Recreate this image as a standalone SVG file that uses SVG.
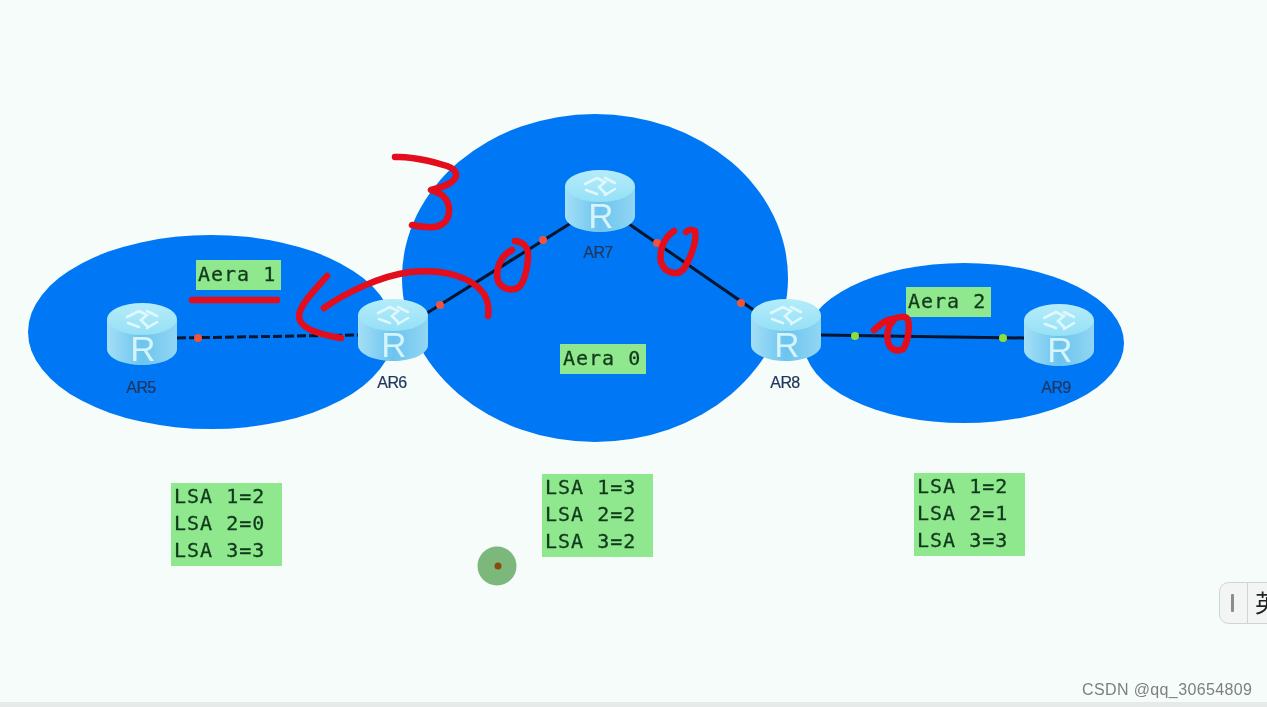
<svg xmlns="http://www.w3.org/2000/svg" width="1267" height="707" viewBox="0 0 1267 707">
<style>
.area{fill:#0078f5}
.lbl{fill:#90e88e}
.mono{font-family:"DejaVu Sans Mono","Liberation Mono",monospace;font-size:20px;fill:#123a1c;letter-spacing:1px;stroke:#123a1c;stroke-width:.3}
.name{font-family:"Liberation Sans",Arial,sans-serif;font-size:16px;letter-spacing:-.6px;fill:#24365f;text-anchor:middle;stroke:#24365f;stroke-width:.2}
.link{stroke:#04142f;stroke-width:3;fill:none}
.red{fill:none;stroke:#e30a1e;stroke-width:6.500;stroke-linecap:round;stroke-linejoin:round}
.dotr{fill:#f0523c}
.dotg{fill:#8fdc3c}
.rt{font-family:"Liberation Sans",Arial,sans-serif;font-size:35px;fill:#d6f4fb;text-anchor:middle}
</style>
<defs>
<filter id="soft" x="0" y="0" width="100%" height="100%"><feGaussianBlur stdDeviation=".55"/></filter>
<linearGradient id="body" x1="0" x2="1" y1="0" y2="0">
<stop offset="0" stop-color="#a4dff6"/><stop offset=".5" stop-color="#6cc4ee"/><stop offset="1" stop-color="#92d6f3"/>
</linearGradient>
<linearGradient id="top" x1="0" x2="0" y1="0" y2="1">
<stop offset="0" stop-color="#b4ecfa"/><stop offset="1" stop-color="#96e0f6"/>
</linearGradient>
<g id="router">
<path d="M-35 -15V15C-35 24-19 31 0 31S35 24 35 15V-15Z" fill="url(#body)"/>
<ellipse cx="0" cy="-15" rx="35" ry="16" fill="url(#top)"/>
<path d="M-15 -17l12-6m8 0l10 5M-14 -11l11 4m8 1l10-6M-3 -23l8 4-6 5 6 6" fill="none" stroke="#dff8fd" stroke-width="2.600" stroke-linecap="round"/>
<text class="rt" x="1" y="27">R</text>
</g>
</defs>
<g filter="url(#soft)">
<rect width="1267" height="707" fill="#f6fcf9"/>
<rect y="702" width="1267" height="5" fill="#e6ebe9"/>
<g id="areas">
<ellipse class="area" cx="211" cy="332" rx="183" ry="97"/>
<ellipse class="area" cx="595" cy="278" rx="193" ry="164"/>
<ellipse class="area" cx="964" cy="343" rx="160" ry="80"/>
</g>
<g id="connectors">
<path class="link" stroke-dasharray="9 3" d="M177 338L358 335"/>
<path class="link" d="M427 313L571 223"/>
<path class="link" d="M629 224L755 311"/>
<path class="link" d="M820 335L1025 338"/>
<circle class="dotr" cx="198" cy="338" r="4"/>
<circle class="dotr" cx="440" cy="305" r="4"/>
<circle class="dotr" cx="543" cy="240" r="4"/>
<circle class="dotr" cx="657" cy="243" r="4"/>
<circle class="dotr" cx="741" cy="303" r="4"/>
<circle class="dotg" cx="855" cy="336" r="4"/>
<circle class="dotg" cx="1003" cy="338" r="4"/>
</g>
<g id="AR5"><use href="#router" x="142" y="334"/><text class="name" x="141" y="393">AR5</text></g>
<g id="AR6"><use href="#router" x="393" y="330"/><text class="name" x="392" y="388">AR6</text></g>
<g id="AR7"><use href="#router" x="600" y="201"/><text class="name" x="598" y="258">AR7</text></g>
<g id="AR8"><use href="#router" x="786" y="330"/><text class="name" x="785" y="388">AR8</text></g>
<g id="AR9"><use href="#router" x="1059" y="335"/><text class="name" x="1056" y="393">AR9</text></g>
<g id="label-area1"><rect class="lbl" x="196" y="260" width="85" height="30"/><text class="mono" x="198" y="281">Aera 1</text></g>
<g id="label-area0"><rect class="lbl" x="560" y="344" width="86" height="30"/><text class="mono" x="563" y="365">Aera 0</text></g>
<g id="label-area2"><rect class="lbl" x="906" y="287" width="85" height="30"/><text class="mono" x="908" y="308">Aera 2</text></g>
<g id="lsa-area1"><rect class="lbl" x="171" y="483" width="111" height="83"/>
<text class="mono" x="174" y="503">LSA 1=2</text><text class="mono" x="174" y="530">LSA 2=0</text><text class="mono" x="174" y="557">LSA 3=3</text></g>
<g id="lsa-area0"><rect class="lbl" x="542" y="474" width="111" height="83"/>
<text class="mono" x="545" y="494">LSA 1=3</text><text class="mono" x="545" y="521">LSA 2=2</text><text class="mono" x="545" y="548">LSA 3=2</text></g>
<g id="lsa-area2"><rect class="lbl" x="914" y="473" width="111" height="83"/>
<text class="mono" x="917" y="493">LSA 1=2</text><text class="mono" x="917" y="520">LSA 2=1</text><text class="mono" x="917" y="547">LSA 3=3</text></g>
<g id="pointer"><circle cx="497" cy="566" r="19.500" fill="#7cb87c"/><circle cx="498" cy="566" r="3.500" fill="#8a4a10"/></g>
<g id="annotations">
<path class="red" d="M395 157C412 156 434 162 447 166C458 170 459 177 450 183C443 188 435 188 431 190C442 193 450 200 449 212C448 224 438 228 428 227C421 227 416 226 412 225"/>
<path class="red" d="M192 300H277"/>
<path class="red" d="M327 276C315 290 299 305 299 317C300 329 322 335 341 338"/>
<path class="red" d="M324 308C345 293 380 276 410 272C445 269 472 277 484 294C488 301 489 310 488 316"/>
<path class="red" d="M515 241C524 242 529 248 528 258C527 270 524 282 519 287C512 292 502 289 498 281C495 270 500 256 512 250"/>
<path class="red" d="M674 231C663 238 659 252 661 262C665 274 679 277 685 267C692 255 697 240 695 231C692 229 688 230 686 232"/>
<path class="red" d="M874 330C880 325 886 319 893 319C898 317 906 315 908 320C910 328 908 342 903 349C897 352 890 350 888 342C886 332 889 325 893 321"/>
</g>
<g id="ime">
<rect x="1219.500" y="582.500" width="60" height="41" rx="9" fill="#f2f5f3" stroke="#cfd6d2"/>
<path d="M1247.500 583V623" stroke="#cfd6d2" fill="none"/>
<rect x="1231" y="594" width="3" height="18" rx="1" fill="#8a8f8c"/>
<text x="1255" y="612" font-family="Noto Sans CJK SC,sans-serif" font-size="24" fill="#222">英</text>
</g>
<text x="1082" y="695" font-family="Liberation Sans,Arial,sans-serif" font-size="16" letter-spacing=".38" fill="#7d7f7e">CSDN @qq_30654809</text>
</g>
</svg>
